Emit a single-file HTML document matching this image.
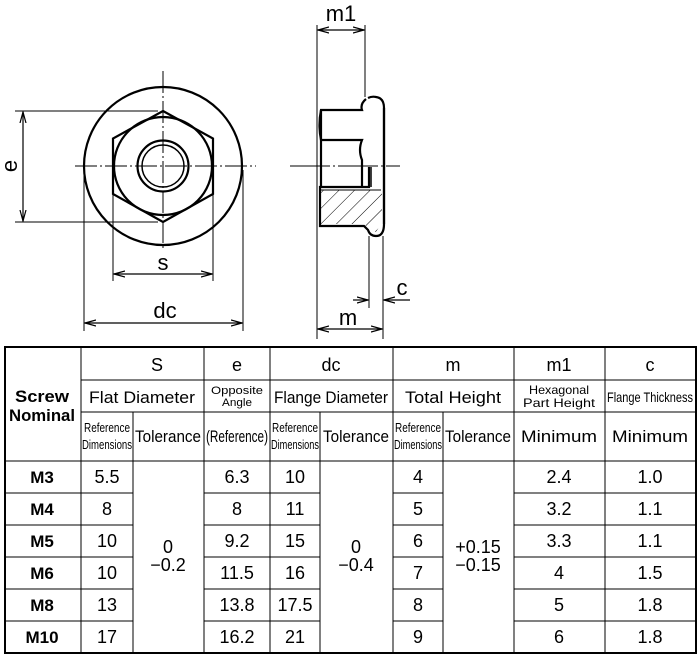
<!DOCTYPE html>
<html><head><meta charset="utf-8"><style>
html,body{margin:0;padding:0;background:#fff;}
svg{display:block;font-family:"Liberation Sans",Arial,sans-serif;}
</style></head><body>
<svg width="700" height="656" viewBox="0 0 700 656" xmlns="http://www.w3.org/2000/svg">
<defs>
<marker id="a" markerWidth="12" markerHeight="8" refX="11" refY="4" orient="auto" markerUnits="userSpaceOnUse">
<path d="M0,1 L11,4 L0,7" fill="none" stroke="#000" stroke-width="1.2"/>
</marker>
<pattern id="h" width="11" height="11" patternUnits="userSpaceOnUse" patternTransform="rotate(45)">
<line x1="0" y1="0" x2="0" y2="11" stroke="#000" stroke-width="1"/>
</pattern>
</defs>
<g fill="none" stroke="#000">
<circle cx="163" cy="166" r="79" stroke-width="2.2"/>
<polygon points="163,111 213,138.5 213,194 163,222 113,194 113,138.5" stroke-width="2.2"/>
<circle cx="163" cy="166" r="49" stroke-width="2.2"/>
<circle cx="163" cy="166" r="25.5" stroke-width="2.2"/>
<circle cx="163" cy="166" r="21" stroke-width="1.5"/>
<line x1="75" y1="166" x2="256" y2="166" stroke-width="1" stroke-dasharray="22,3,2,3"/>
<line x1="163" y1="71" x2="163" y2="250" stroke-width="1" stroke-dasharray="22,3,2,3"/>
<line x1="15" y1="111" x2="158" y2="111" stroke-width="1"/>
<line x1="15" y1="222" x2="158" y2="222" stroke-width="1"/>
<line x1="23" y1="166" x2="23" y2="112" stroke-width="1.2" marker-end="url(#a)"/>
<line x1="23" y1="166" x2="23" y2="221" stroke-width="1.2" marker-end="url(#a)"/>
<line x1="113" y1="194" x2="113" y2="281" stroke-width="1"/>
<line x1="213" y1="194" x2="213" y2="281" stroke-width="1"/>
<line x1="163" y1="274" x2="114" y2="274" stroke-width="1.2" marker-end="url(#a)"/>
<line x1="163" y1="274" x2="212" y2="274" stroke-width="1.2" marker-end="url(#a)"/>
<line x1="84" y1="170" x2="84" y2="331" stroke-width="1"/>
<line x1="243" y1="170" x2="243" y2="331" stroke-width="1"/>
<line x1="163" y1="323" x2="85" y2="323" stroke-width="1.2" marker-end="url(#a)"/>
<line x1="163" y1="323" x2="242" y2="323" stroke-width="1.2" marker-end="url(#a)"/>
<path d="M368,98 Q372,96 376,97 Q384,98 384,108 L384,224 Q384,236 376,236 Q370,236 368,230 L364,226 L320,226 L320,187 L369,187 L369,167" stroke-width="2.2"/>
<path d="M366,99 Q360,104 362,110 L321,110 Q318,125 321,140 L362,140 Q358,150 362,160 L362,187" stroke-width="2.2"/>
<path d="M321,110 L321,187" stroke-width="2.2"/>
<line x1="371" y1="167" x2="371" y2="187" stroke-width="1.5"/>
<line x1="384" y1="108" x2="384" y2="224" stroke-width="2.2"/>
<path d="M321,190 L369,190 L382,192 L382,222 L376,232 L370,230 L364,224 L321,224 Z" fill="url(#h)" stroke="none"/>
<line x1="321" y1="190" x2="381" y2="190" stroke-width="1"/>
<line x1="290" y1="166" x2="400" y2="166" stroke-width="1" stroke-dasharray="40,3,2,3"/>
<line x1="317" y1="25" x2="317" y2="339" stroke-width="1"/>
<line x1="365" y1="25" x2="365" y2="97" stroke-width="1"/>
<line x1="341" y1="30" x2="318" y2="30" stroke-width="1.2" marker-end="url(#a)"/>
<line x1="341" y1="30" x2="364" y2="30" stroke-width="1.2" marker-end="url(#a)"/>
<line x1="369" y1="236" x2="369" y2="308" stroke-width="1"/>
<line x1="383" y1="236" x2="383" y2="339" stroke-width="1"/>
<line x1="350" y1="329" x2="318" y2="329" stroke-width="1.2" marker-end="url(#a)"/>
<line x1="350" y1="329" x2="382" y2="329" stroke-width="1.2" marker-end="url(#a)"/>
<line x1="353" y1="300" x2="368" y2="300" stroke-width="1.2" marker-end="url(#a)"/>
<line x1="410" y1="300" x2="384" y2="300" stroke-width="1.2" marker-end="url(#a)"/>
</g>
<g font-size="22" fill="#000">
<text x="341" y="21" text-anchor="middle">m1</text>
<text x="163" y="270" text-anchor="middle">s</text>
<text x="165" y="318" text-anchor="middle">dc</text>
<text x="348" y="325" text-anchor="middle">m</text>
<text x="402" y="295" text-anchor="middle">c</text>
<text transform="translate(17,166) rotate(-90)" text-anchor="middle">e</text>
</g>
<g stroke="#000" fill="none">
<rect x="5" y="347" width="691" height="306" stroke-width="2"/>
<g stroke-width="1">
<line x1="81" y1="347" x2="81" y2="653"/>
<line x1="204" y1="347" x2="204" y2="653"/>
<line x1="270" y1="347" x2="270" y2="653"/>
<line x1="393" y1="347" x2="393" y2="653"/>
<line x1="514" y1="347" x2="514" y2="653"/>
<line x1="605" y1="347" x2="605" y2="653"/>
<line x1="133" y1="412" x2="133" y2="653"/>
<line x1="320" y1="412" x2="320" y2="653"/>
<line x1="443" y1="412" x2="443" y2="653"/>
<line x1="81" y1="380" x2="696" y2="380"/>
<line x1="81" y1="412" x2="696" y2="412"/>
<line x1="5" y1="461" x2="696" y2="461"/>
<line x1="5" y1="493" x2="133" y2="493"/><line x1="204" y1="493" x2="320" y2="493"/><line x1="393" y1="493" x2="443" y2="493"/><line x1="514" y1="493" x2="696" y2="493"/>
<line x1="5" y1="525" x2="133" y2="525"/><line x1="204" y1="525" x2="320" y2="525"/><line x1="393" y1="525" x2="443" y2="525"/><line x1="514" y1="525" x2="696" y2="525"/>
<line x1="5" y1="557" x2="133" y2="557"/><line x1="204" y1="557" x2="320" y2="557"/><line x1="393" y1="557" x2="443" y2="557"/><line x1="514" y1="557" x2="696" y2="557"/>
<line x1="5" y1="589" x2="133" y2="589"/><line x1="204" y1="589" x2="320" y2="589"/><line x1="393" y1="589" x2="443" y2="589"/><line x1="514" y1="589" x2="696" y2="589"/>
<line x1="5" y1="621" x2="133" y2="621"/><line x1="204" y1="621" x2="320" y2="621"/><line x1="393" y1="621" x2="443" y2="621"/><line x1="514" y1="621" x2="696" y2="621"/>
</g>
</g>
<g fill="#000" text-anchor="middle" font-size="17">
<g font-size="18">
<text x="157" y="371">S</text>
<text x="237" y="371">e</text>
<text x="331" y="371">dc</text>
<text x="453" y="371">m</text>
<text x="559" y="371">m1</text>
<text x="650" y="371">c</text>
</g>
<text x="42" y="402" font-weight="bold" textLength="54" lengthAdjust="spacingAndGlyphs">Screw</text>
<text x="42" y="421" font-weight="bold" textLength="66" lengthAdjust="spacingAndGlyphs">Nominal</text>
<text x="142" y="403" textLength="106" lengthAdjust="spacingAndGlyphs">Flat Diameter</text>
<text x="237" y="394" font-size="11" textLength="52" lengthAdjust="spacingAndGlyphs">Opposite</text>
<text x="237" y="406" font-size="11" textLength="30" lengthAdjust="spacingAndGlyphs">Angle</text>
<text x="331" y="403" textLength="114" lengthAdjust="spacingAndGlyphs">Flange Diameter</text>
<text x="453" y="403" textLength="96" lengthAdjust="spacingAndGlyphs">Total Height</text>
<text x="559" y="394" font-size="12" textLength="60" lengthAdjust="spacingAndGlyphs">Hexagonal</text>
<text x="559" y="407" font-size="12" textLength="72" lengthAdjust="spacingAndGlyphs">Part Height</text>
<text x="650" y="402" font-size="14" textLength="86" lengthAdjust="spacingAndGlyphs">Flange Thickness</text>
<g font-size="13">
<text x="107" y="432" textLength="46" lengthAdjust="spacingAndGlyphs">Reference</text>
<text x="107" y="449" textLength="50" lengthAdjust="spacingAndGlyphs">Dimensions</text>
<text x="295" y="432" textLength="46" lengthAdjust="spacingAndGlyphs">Reference</text>
<text x="295" y="449" textLength="48" lengthAdjust="spacingAndGlyphs">Dimensions</text>
<text x="418" y="432" textLength="46" lengthAdjust="spacingAndGlyphs">Reference</text>
<text x="418" y="449" textLength="48" lengthAdjust="spacingAndGlyphs">Dimensions</text>
</g>
<text x="168" y="442" textLength="66" lengthAdjust="spacingAndGlyphs">Tolerance</text>
<text x="237" y="442" textLength="62" lengthAdjust="spacingAndGlyphs">(Reference)</text>
<text x="356" y="442" textLength="66" lengthAdjust="spacingAndGlyphs">Tolerance</text>
<text x="478" y="442" textLength="66" lengthAdjust="spacingAndGlyphs">Tolerance</text>
<text x="559" y="442" textLength="76" lengthAdjust="spacingAndGlyphs">Minimum</text>
<text x="650" y="442" textLength="76" lengthAdjust="spacingAndGlyphs">Minimum</text>
<g font-weight="bold">
<text x="42" y="483">M3</text><text x="42" y="515">M4</text><text x="42" y="547">M5</text>
<text x="42" y="579">M6</text><text x="42" y="611">M8</text><text x="42" y="643">M10</text>
</g>
<g font-size="18">
<text x="107" y="483">5.5</text><text x="107" y="515">8</text><text x="107" y="547">10</text>
<text x="107" y="579">10</text><text x="107" y="611">13</text><text x="107" y="643">17</text>
<text x="168" y="553">0</text><text x="168" y="571">−0.2</text>
<text x="237" y="483">6.3</text><text x="237" y="515">8</text><text x="237" y="547">9.2</text>
<text x="237" y="579">11.5</text><text x="237" y="611">13.8</text><text x="237" y="643">16.2</text>
<text x="295" y="483">10</text><text x="295" y="515">11</text><text x="295" y="547">15</text>
<text x="295" y="579">16</text><text x="295" y="611">17.5</text><text x="295" y="643">21</text>
<text x="356" y="553">0</text><text x="356" y="571">−0.4</text>
<text x="418" y="483">4</text><text x="418" y="515">5</text><text x="418" y="547">6</text>
<text x="418" y="579">7</text><text x="418" y="611">8</text><text x="418" y="643">9</text>
<text x="478" y="553">+0.15</text><text x="478" y="571">−0.15</text>
<text x="559" y="483">2.4</text><text x="559" y="515">3.2</text><text x="559" y="547">3.3</text>
<text x="559" y="579">4</text><text x="559" y="611">5</text><text x="559" y="643">6</text>
<text x="650" y="483">1.0</text><text x="650" y="515">1.1</text><text x="650" y="547">1.1</text>
<text x="650" y="579">1.5</text><text x="650" y="611">1.8</text><text x="650" y="643">1.8</text>
</g>
</g>
</svg>
</body></html>
